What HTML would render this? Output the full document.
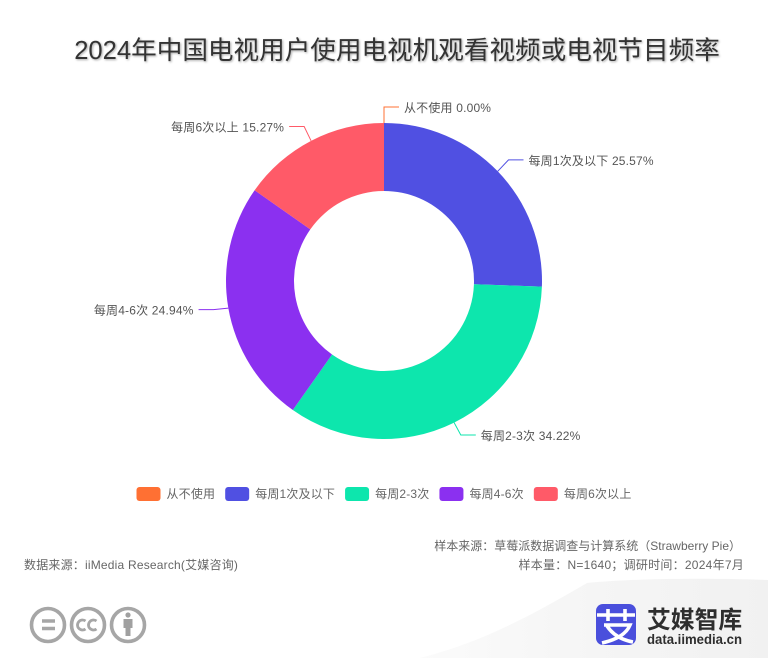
<!DOCTYPE html>
<html lang="zh-CN">
<head>
<meta charset="utf-8">
<title>2024年中国电视用户使用电视机观看视频或电视节目频率</title>
<style>
html,body{margin:0;padding:0;background:#fff;}
#page{position:relative;width:768px;height:658px;overflow:hidden;background:#fff;font-family:"Liberation Sans","Noto Sans CJK SC",sans-serif;}
#page svg{position:absolute;left:0;top:0;filter:blur(.35px);}
text{font-family:"Liberation Sans","Noto Sans CJK SC",sans-serif;}
</style>
</head>
<body>
<div id="page">
<svg id="chart" width="768" height="658" viewBox="0 0 768 658" xmlns="http://www.w3.org/2000/svg">
  <defs>
    <linearGradient id="bgFade" x1="0" y1="0" x2="1" y2="0">
      <stop offset="0" stop-color="#fbfbfb"/>
      <stop offset=".5" stop-color="#f5f5f5"/>
      <stop offset="1" stop-color="#f1f1f1"/>
    </linearGradient>
  </defs>
  <path d="M420 658 C490 640 540 610 587 583 C640 578 710 578 768 580 L768 658 Z" fill="url(#bgFade)"/>
  <text x="397" y="59" text-anchor="middle" font-size="25.6" fill="#333" style="text-shadow:1px 1px 2px rgba(0,0,0,.35)">2024年中国电视用户使用电视机观看视频或电视节目频率</text>
  <g id="slices"></g>
  <g id="leaders"></g>
  <g id="labels"></g>
  <g id="legend"></g>
  <text x="741" y="550" text-anchor="end" font-size="12" fill="#666">样本来源：草莓派数据调查与计算系统（Strawberry Pie）</text>
  <text x="24" y="569" font-size="12" fill="#666" letter-spacing=".2">数据来源：iiMedia Research(艾媒咨询)</text>
  <text x="744" y="569" text-anchor="end" font-size="12" fill="#666" letter-spacing=".25">样本量：N=1640；调研时间：2024年7月</text>
  <g fill="none" stroke="#a6a6a6" stroke-width="3.6">
    <circle cx="48" cy="625" r="16.5"/>
    <path d="M42 621H55M42 628.5H55" stroke-width="3.5"/>
    <circle cx="88" cy="625" r="16.5"/>
    <path d="M85.5 621a5 5 0 1 0 0 8M96.5 621a5 5 0 1 0 0 8" stroke-width="2.8"/>
    <circle cx="128" cy="625" r="16.5"/>
    <g fill="#a0a0a0" stroke="none">
      <circle cx="128" cy="615" r="2.6"/>
      <path d="M123.5 619H132.5V628H130.5V636H125.5V628H123.5Z"/>
    </g>
  </g>
  <g>
    <rect x="596" y="604" width="40" height="41" rx="7" fill="#4a4fdc"/>
    <path d="M597 615H635M608 609V621M625 609V621M604 625H630C626 635 615 640 602 643M607 626C613 635 622 640 633 642" fill="none" stroke="#fff" stroke-width="3.6"/>
    <text x="647" y="628" font-size="23.8" font-weight="700" fill="#2e2e2e">艾媒智库</text>
    <text x="647" y="644" font-size="14" font-weight="700" fill="#2e2e2e" textLength="95" lengthAdjust="spacingAndGlyphs">data.iimedia.cn</text>
  </g>
</svg>
</div>
<script>
const categories = ['从不使用', '每周1次及以下', '每周2-3次', '每周4-6次', '每周6次以上'];
const seriesValues = [0.00, 25.57, 34.22, 24.94, 15.27];
const seriesColors = ['#ff7033', '#5050e2', '#0de6ad', '#8b30f0', '#ff5a68'];

const NS = 'http://www.w3.org/2000/svg';
const cx = 384, cy = 281, outerR = 158, innerR = 90, leaderR = 173, leaderRun = 15, labelGap = 5;
const total = seriesValues.reduce((a, b) => a + b, 0);
const angleOf = v => v / total * Math.PI * 2;
const polar = (r, a) => [cx + r * Math.sin(a), cy - r * Math.cos(a)];

const slicesG = document.getElementById('slices');
const leadersG = document.getElementById('leaders');
const labelsG = document.getElementById('labels');
const legendG = document.getElementById('legend');

let acc = 0;
seriesValues.forEach((v, i) => {
  const a0 = angleOf(acc), a1 = angleOf(acc + v), mid = (a0 + a1) / 2;
  acc += v;
  if (v > 0) {
    const large = a1 - a0 > Math.PI ? 1 : 0;
    const p0 = polar(outerR, a0), p1 = polar(outerR, a1), p2 = polar(innerR, a1), p3 = polar(innerR, a0);
    const slice = document.createElementNS(NS, 'path');
    slice.setAttribute('d', `M${p0[0]} ${p0[1]}A${outerR} ${outerR} 0 ${large} 1 ${p1[0]} ${p1[1]}L${p2[0]} ${p2[1]}A${innerR} ${innerR} 0 ${large} 0 ${p3[0]} ${p3[1]}Z`);
    slice.setAttribute('fill', seriesColors[i]);
    
    
    slicesG.appendChild(slice);
  }
  const right = Math.sin(mid) >= 0;
  const dir = right ? 1 : -1;
  const s = polar(outerR, mid), e = polar(leaderR, mid);
  const elbowY = e[1] - 1;
  const endX = e[0] + dir * leaderRun;
  const line = document.createElementNS(NS, 'polyline');
  line.setAttribute('points', `${s[0]},${s[1]} ${e[0]},${elbowY} ${endX},${elbowY}`);
  line.setAttribute('fill', 'none');
  line.setAttribute('stroke', seriesColors[i]);
  line.setAttribute('stroke-width', '1');
  
  
  leadersG.appendChild(line);
  const label = document.createElementNS(NS, 'text');
  label.setAttribute('x', endX + dir * labelGap);
  label.setAttribute('y', elbowY + 5);
  label.setAttribute('font-size', '12');
  label.setAttribute('letter-spacing', '.18');
  label.setAttribute('fill', '#555');
  label.setAttribute('text-anchor', right ? 'start' : 'end');
  
  
  label.textContent = `${categories[i]} ${v.toFixed(2)}%`;
  labelsG.appendChild(label);
});

let lx = 136.5;
categories.forEach((name, i) => {
  const swatch = document.createElementNS(NS, 'rect');
  swatch.setAttribute('x', lx);
  swatch.setAttribute('y', 487);
  swatch.setAttribute('width', 24);
  swatch.setAttribute('height', 14);
  swatch.setAttribute('rx', 3);
  swatch.setAttribute('fill', seriesColors[i]);
  
  
  legendG.appendChild(swatch);
  const t = document.createElementNS(NS, 'text');
  t.setAttribute('x', lx + 30);
  t.setAttribute('y', 498);
  t.setAttribute('font-size', '12');
  t.setAttribute('letter-spacing', '.17');
  t.setAttribute('fill', '#666');
  
  
  t.textContent = name;
  legendG.appendChild(t);
  lx += 30 + t.getComputedTextLength() + 10;
});
</script>
</body>
</html>
